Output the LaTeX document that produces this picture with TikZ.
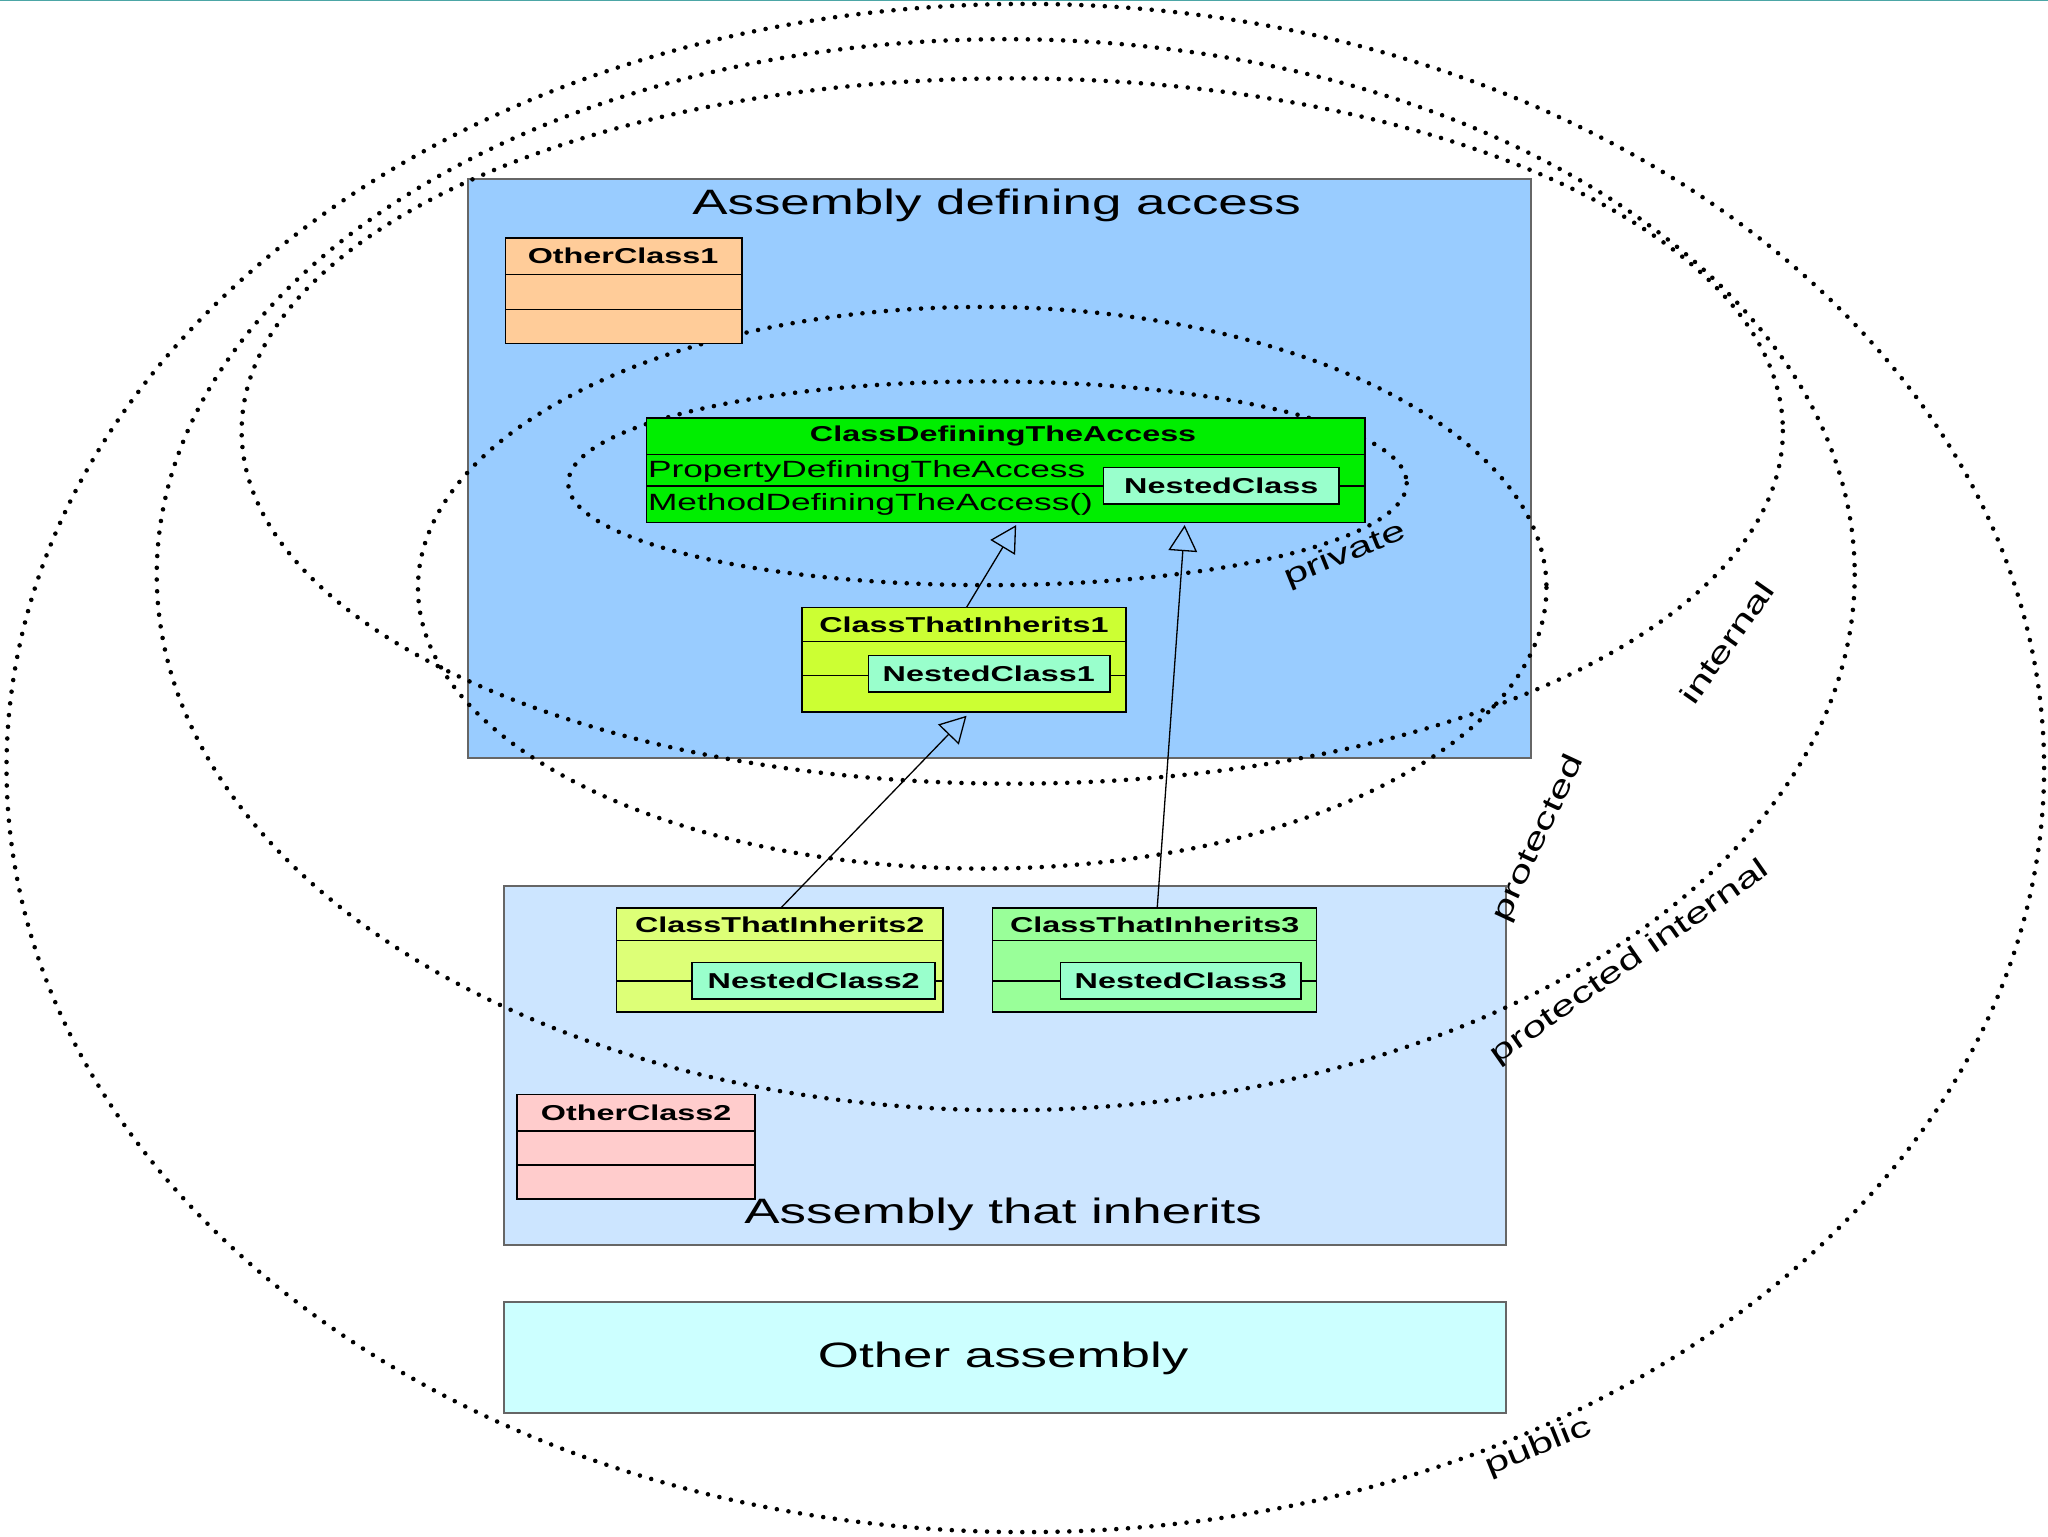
\documentclass[tikz,border=0pt]{standalone}
\usepackage{fontspec}
\setmainfont{Liberation Sans}[FakeStretch=1.5]
\usetikzlibrary{arrows.meta}
\begin{document}
\begin{tikzpicture}[x=1pt,y=-1pt,
 asm/.style={draw=black!60,line width=1.5pt},
 cls/.style={draw=black,line width=1.2pt},
 nm/.style={font=\fontsize{16.5}{18}\selectfont\bfseries},
 ln/.style={black,line width=1pt},
 ell/.style={line width=3.5pt,dash pattern=on 0pt off 9pt,line cap=round},
 lab/.style={font=\fontsize{22}{24}\selectfont},
 ttl/.style={font=\fontsize{27}{29}\selectfont},
 inh/.style={-{Triangle[open,length=20pt,width=22pt]},line width=1pt,fill=white}]
\useasboundingbox (0,0) rectangle (1568,1176);
\fill[white] (0,0) rectangle (1568,1176);
\draw[teal!70,line width=1pt] (0,0.5) -- (1568,0.5);
% assemblies
\draw[asm,fill={rgb,255:red,153;green,204;blue,255}] (358,137) rectangle (1172,580);
\node[ttl] (t1) at (763,157) {Assembly defining access};
\draw[asm,fill={rgb,255:red,204;green,229;blue,255}] (386,678) rectangle (1153,953);
\node[ttl] (t2) at (768,930) {Assembly that inherits};
\draw[asm,fill={rgb,255:red,204;green,255;blue,255}] (386,997) rectangle (1153,1082);
\node[ttl] (t3) at (768,1040) {Other assembly};
% ellipses
\draw[ell] (756,370) ellipse [x radius=321,y radius=78];
\draw[ell] (752,450) ellipse [x radius=432,y radius=215];
\draw[ell] (775,330) ellipse [x radius=590,y radius=270];
\draw[ell] (770,440) ellipse [x radius=650,y radius=410];
\draw[ell] (785,588) ellipse [x radius=780,y radius=585];
\node[lab,rotate=22] (lp) at (1030,425) {private};
\node[lab,rotate=55] (li) at (1322,492) {internal};
\node[lab,rotate=65] (lpr) at (1178,642) {protected};
\node[lab,rotate=35] (lpi) at (1248,737) {protected internal};
\node[lab,rotate=22] (lpu) at (1178,1108) {public};
% OtherClass1
\draw[cls,fill={rgb,255:red,255;green,204;blue,153}] (387,182) rectangle (568,263);
\draw[ln] (387,210)--(568,210) (387,237)--(568,237);
\node[nm] (oc1) at (477,196) {OtherClass1};
% OtherClass2
\draw[cls,fill={rgb,255:red,255;green,204;blue,204}] (396,838) rectangle (578,918);
\draw[ln] (396,866)--(578,866) (396,892)--(578,892);
\node[nm] (oc2) at (487,852) {OtherClass2};
% ClassDefiningTheAccess
\draw[cls,fill={rgb,255:red,0;green,238;blue,0}] (495,320) rectangle (1045,400);
\draw[ln] (495,348)--(1045,348);
\node[nm] (cda) at (768,334) {ClassDefiningTheAccess};
\node[font=\fontsize{18}{19}\selectfont,anchor=west,inner sep=0] (p) at (496,361) {PropertyDefiningTheAccess};
\node[font=\fontsize{18}{19}\selectfont,anchor=west,inner sep=0] (m) at (496,386) {MethodDefiningTheAccess()};
\draw[ln] (495,372)--(845,372) (1025,372)--(1045,372);
\draw[cls,fill={rgb,255:red,153;green,255;blue,204}] (845,358) rectangle (1025,386);
\node[nm] (nc) at (935,372) {NestedClass};
% CTI1
\draw[cls,fill={rgb,255:red,204;green,255;blue,51}] (614,465) rectangle (862,545);
\draw[ln] (614,491)--(862,491) (614,517)--(665,517) (850,517)--(862,517);
\node[nm] (c1) at (738,478) {ClassThatInherits1};
\draw[cls,fill={rgb,255:red,153;green,255;blue,204}] (665,502) rectangle (850,530);
\node[nm] (n1) at (757,516) {NestedClass1};
% CTI2
\draw[cls,fill={rgb,255:red,221;green,255;blue,119}] (472,695) rectangle (722,775);
\draw[ln] (472,720)--(722,720) (472,751)--(530,751) (716,751)--(722,751);
\node[nm] (c2) at (597,708) {ClassThatInherits2};
\draw[cls,fill={rgb,255:red,153;green,255;blue,204}] (530,737) rectangle (716,765);
\node[nm] (n2) at (623,751) {NestedClass2};
% CTI3
\draw[cls,fill={rgb,255:red,153;green,255;blue,153}] (760,695) rectangle (1008,775);
\draw[ln] (760,720)--(1008,720) (760,751)--(812,751) (996,751)--(1008,751);
\node[nm] (c3) at (884,708) {ClassThatInherits3};
\draw[cls,fill={rgb,255:red,153;green,255;blue,204}] (812,737) rectangle (996,765);
\node[nm] (n3) at (904,751) {NestedClass3};
% inheritance
\coordinate (a1s) at (740,465); \coordinate (a1e) at (778,402);
\coordinate (a2s) at (886,695); \coordinate (a2e) at (907,402);
\coordinate (a3s) at (598,695); \coordinate (a3e) at (740,548);
\draw[inh] (a1s)--(a1e);
\draw[inh] (a2s)--(a2e);
\draw[inh] (a3s)--(a3e);
\end{tikzpicture}
\end{document}
